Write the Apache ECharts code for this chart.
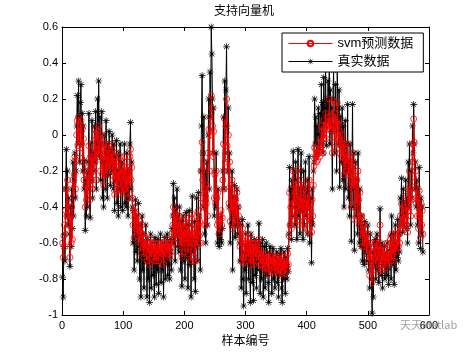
<!DOCTYPE html>
<html>
<head>
<meta charset="utf-8">
<script src="https://cdn.jsdelivr.net/npm/echarts@6/dist/echarts.min.js"></script>
<style>
  html, body { margin: 0; padding: 0; background: #fff; }
  #main { width: 474px; height: 354px; }
</style>
</head>
<body>
<div id="main"></div>
<script>
// 真实数据 (black *)
var realData = [
  -0.79, -0.9, -0.62, -0.55, -0.7, -0.3, -0.08, -0.45, -0.2, -0.5,
  -0.35, -0.55, -0.73, -0.4, -0.62, -0.3, -0.52, -0.15, -0.45, -0.25,
  -0.1, -0.35, -0.2, 0.05, 0.22, -0.05, 0.3, 0.1, -0.15, 0.18,
  0.28, -0.05, 0.12, -0.2, 0.05, -0.3, -0.14, -0.53, -0.25, -0.45,
  -0.2, -0.4, -0.15, 0.12, -0.3, -0.46, -0.05, -0.25, 0.08, -0.35,
  -0.1, -0.2, 0.05, -0.15, 0.13, -0.3, -0.05, 0.2, -0.1, 0.3,
  -0.12, 0.1, -0.25, -0.05, 0.13, -0.35, -0.15, -0.4, 0.0, -0.2,
  -0.3, 0.08, -0.1, -0.35, -0.05, -0.22, 0.02, -0.15, -0.28, -0.08,
  -0.2, 0.0, -0.15, -0.3, -0.05, -0.42, -0.12, -0.25, -0.03, -0.38,
  -0.2, -0.45, -0.1, -0.3, -0.05, -0.4, -0.25, -0.15, -0.42, -0.2,
  -0.3, -0.05, -0.38, -0.22, -0.4, -0.1, -0.3, -0.45, -0.2, -0.35,
  -0.05, 0.07, -0.3, -0.15, -0.4, -0.6, -0.42, -0.75, -0.5, -0.36,
  -0.65, -0.45, -0.7, -0.55, -0.38, -0.62, -0.8, -0.5, -0.9, -0.6,
  -0.45, -0.75, -0.55, -0.85, -0.6, -0.7, -0.5, -0.65, -0.9, -0.58,
  -0.8, -0.62, -0.93, -0.7, -0.55, -0.85, -0.68, -0.6, -0.78, -0.65,
  -0.9, -0.57, -0.72, -0.83, -0.6, -0.75, -0.58, -0.88, -0.66, -0.7,
  -0.55, -0.82, -0.64, -0.75, -0.6, -0.9, -0.68, -0.57, -0.8, -0.62,
  -0.7, -0.55, -0.78, -0.6, -0.72, -0.8, -0.58, -0.65, -0.75, -0.52,
  -0.45, -0.27, -0.6, -0.35, -0.7, -0.4, -0.55, -0.3, -0.62, -0.45,
  -0.65, -0.4, -0.55, -0.75, -0.48, -0.84, -0.6, -0.45, -0.7, -0.52,
  -0.8, -0.58, -0.43, -0.68, -0.5, -0.85, -0.6, -0.42, -0.72, -0.55,
  -0.9, -0.5, -0.34, -0.65, -0.58, -0.8, -0.48, -0.87, -0.62, -0.35,
  -0.55, -0.7, -0.32, -0.6, -0.45, -0.75, -0.2, 0.05, 0.33, -0.1,
  -0.4, 0.1, -0.55, -0.2, -0.6, -0.35, -0.15, -0.5, 0.0, 0.2,
  -0.3, 0.35, 0.1, 0.6, 0.45, 0.2, -0.1, 0.15, -0.45, -0.2,
  -0.4, -0.1, -0.35, -0.6, -0.3, -0.55, -0.62, -0.5, -0.58, -0.45,
  -0.6, -0.52, -0.2, 0.1, -0.3, 0.3, -0.1, 0.25, 0.49, 0.05,
  -0.2, 0.15, -0.4, -0.1, -0.6, -0.3, -0.5, -0.2, -0.75, -0.35,
  -0.45, -0.28, -0.57, -0.35, -0.5, -0.3, -0.55, -0.4, -0.48, -0.6,
  -0.7, -0.5, -0.85, -0.6, -0.47, -0.8, -0.95, -0.65, -0.75, -0.55,
  -0.88, -0.62, -0.7, -0.5, -0.8, -0.6, -0.72, -0.93, -0.55, -0.68,
  -0.82, -0.6, -0.92, -0.7, -0.58, -0.78, -0.65, -0.85, -0.6, -0.75,
  -0.62, -0.49, -0.7, -0.88, -0.6, -0.8, -0.68, -0.58, -0.9, -0.72,
  -0.62, -0.85, -0.7, -0.6, -0.78, -0.65, -0.82, -0.93, -0.7, -0.62,
  -0.75, -0.66, -0.88, -0.7, -0.63, -0.8, -0.72, -0.85, -0.68, -0.76,
  -0.65, -0.82, -0.7, -0.9, -0.66, -0.78, -0.72, -0.63, -0.85, -0.93,
  -0.7, -0.8, -0.65, -0.75, -0.88, -0.68, -0.72, -0.8, -0.63, -0.76,
  -0.55, -0.18, -0.5, -0.3, -0.58, -0.25, -0.45, -0.09, -0.35, -0.2,
  -0.5, -0.15, -0.4, -0.58, -0.25, -0.08, -0.45, -0.3, -0.55, -0.2,
  -0.1, -0.42, -0.3, -0.58, -0.2, -0.5, -0.35, -0.15, -0.45, -0.3,
  -0.55, -0.25, -0.4, -0.12, -0.6, -0.35, -0.48, -0.71, -0.3, -0.5,
  -0.2, -0.15, 0.2, -0.05, 0.1, -0.12, 0.05, -0.1, 0.15, 0.0,
  -0.08, 0.12, -0.05, 0.28, 0.0, 0.18, -0.1, 0.32, 0.05, 0.15,
  0.37, -0.06, 0.2, 0.08, 0.3, 0.1, 0.4, -0.05, 0.25, 0.15,
  0.02, -0.3, 0.2, 0.36, 0.05, -0.1, 0.28, 0.12, -0.2, 0.37,
  0.15, -0.05, 0.25, -0.29, 0.1, 0.0, -0.15, 0.15, -0.25, 0.05,
  -0.4, -0.1, 0.08, -0.3, -0.05, -0.2, 0.17, -0.35, -0.15, -0.45,
  -0.05, -0.3, -0.59, -0.2, 0.17, -0.4, -0.1, -0.64, -0.3, -0.15,
  -0.45, -0.25, -0.55, -0.1, -0.4, -0.6, -0.3, -0.5, -0.62, -0.45,
  -0.7, -0.5, -0.58, -0.72, -0.48, -0.65, -0.55, -0.7, -0.6, -0.5,
  -0.75, -0.62, -0.85, -0.55, -0.7, -0.8, -0.99, -0.65, -0.9, -0.6,
  -0.72, -0.58, -0.8, -0.65, -0.55, -0.75, -0.6, -0.82, -0.7, -0.41,
  -0.65, -0.78, -0.6, -0.85, -0.68, -0.72, -0.62, -0.8, -0.7, -0.66,
  -0.78, -0.6, -0.74, -0.83, -0.64, -0.7, -0.56, -0.8, -0.45, -0.65,
  -0.72, -0.55, -0.83, -0.6, -0.5, -0.75, -0.62, -0.68, -0.47, -0.7,
  -0.55, -0.65, -0.35, -0.5, -0.24, -0.45, -0.54, -0.3, -0.5, -0.38,
  -0.45, -0.25, -0.52, -0.35, -0.6, -0.15, -0.4, -0.05, -0.3, -0.5,
  -0.2, -0.35, 0.05, -0.1, 0.17, -0.05, -0.3, -0.15, -0.4, -0.25,
  -0.5, -0.3, -0.6, -0.18, -0.45, -0.63, -0.35, -0.55, -0.4, -0.65
];
// svm预测数据 (red o)
var predData = [
  -0.6, -0.68, -0.56, -0.5, -0.62, -0.42, -0.3, -0.45, -0.25, -0.47,
  -0.38, -0.5, -0.68, -0.45, -0.6, -0.4, -0.58, -0.25, -0.34, -0.22,
  -0.12, -0.3, -0.14, 0.0, 0.08, -0.06, 0.1, 0.02, -0.1, 0.05,
  0.08, -0.05, 0.03, -0.15, -0.02, -0.25, -0.2, -0.4, -0.28, -0.36,
  -0.22, -0.34, -0.18, -0.06, -0.28, -0.36, -0.12, -0.25, -0.05, -0.3,
  -0.12, -0.2, 0.0, -0.15, 0.03, -0.25, -0.08, 0.02, -0.12, 0.05,
  -0.1, -0.02, -0.2, -0.08, 0.0, -0.22, -0.12, -0.28, -0.05, -0.18,
  -0.22, -0.05, -0.12, -0.22, -0.08, -0.18, -0.05, -0.15, -0.2, -0.1,
  -0.16, -0.06, -0.15, -0.25, -0.12, -0.33, -0.15, -0.24, -0.1, -0.3,
  -0.2, -0.33, -0.15, -0.26, -0.12, -0.3, -0.22, -0.18, -0.32, -0.2,
  -0.26, -0.12, -0.3, -0.2, -0.32, -0.15, -0.25, -0.35, -0.2, -0.28,
  -0.12, -0.08, -0.25, -0.18, -0.35, -0.5, -0.42, -0.57, -0.46, -0.4,
  -0.52, -0.44, -0.56, -0.5, -0.45, -0.53, -0.6, -0.48, -0.65, -0.55,
  -0.5, -0.62, -0.55, -0.68, -0.58, -0.63, -0.57, -0.62, -0.7, -0.6,
  -0.66, -0.6, -0.72, -0.64, -0.58, -0.68, -0.63, -0.6, -0.66, -0.62,
  -0.7, -0.6, -0.65, -0.7, -0.62, -0.66, -0.6, -0.7, -0.63, -0.65,
  -0.6, -0.68, -0.62, -0.66, -0.6, -0.72, -0.64, -0.6, -0.68, -0.62,
  -0.64, -0.58, -0.66, -0.6, -0.64, -0.68, -0.6, -0.62, -0.65, -0.55,
  -0.5, -0.4, -0.55, -0.44, -0.6, -0.45, -0.52, -0.42, -0.56, -0.48,
  -0.58, -0.45, -0.52, -0.62, -0.5, -0.68, -0.56, -0.48, -0.6, -0.52,
  -0.65, -0.55, -0.46, -0.6, -0.5, -0.66, -0.56, -0.46, -0.62, -0.54,
  -0.7, -0.52, -0.44, -0.6, -0.55, -0.68, -0.5, -0.7, -0.58, -0.45,
  -0.55, -0.62, -0.42, -0.56, -0.48, -0.6, -0.35, -0.2, -0.04, -0.25,
  -0.4, -0.15, -0.5, -0.3, -0.5, -0.38, -0.28, -0.45, -0.1, 0.03,
  -0.2, 0.1, 0.0, 0.22, 0.15, 0.05, -0.12, 0.02, -0.35, -0.22,
  -0.38, -0.2, -0.35, -0.5, -0.32, -0.48, -0.55, -0.45, -0.52, -0.42,
  -0.5, -0.46, -0.25, -0.05, -0.3, 0.09, -0.15, 0.05, 0.2, -0.06,
  -0.2, 0.0, -0.38, -0.15, -0.48, -0.28, -0.42, -0.25, -0.52, -0.35,
  -0.42, -0.3, -0.5, -0.36, -0.46, -0.32, -0.5, -0.4, -0.45, -0.55,
  -0.62, -0.5, -0.7, -0.58, -0.52, -0.68, -0.71, -0.6, -0.66, -0.56,
  -0.7, -0.6, -0.65, -0.55, -0.68, -0.6, -0.66, -0.72, -0.58, -0.64,
  -0.7, -0.6, -0.72, -0.65, -0.6, -0.68, -0.62, -0.7, -0.6, -0.66,
  -0.64, -0.58, -0.66, -0.72, -0.64, -0.72, -0.68, -0.66, -0.74, -0.7,
  -0.68, -0.74, -0.7, -0.66, -0.73, -0.68, -0.74, -0.77, -0.7, -0.67,
  -0.72, -0.68, -0.76, -0.7, -0.67, -0.74, -0.7, -0.76, -0.69, -0.73,
  -0.68, -0.75, -0.7, -0.77, -0.68, -0.74, -0.71, -0.67, -0.76, -0.77,
  -0.71, -0.75, -0.68, -0.72, -0.77, -0.7, -0.72, -0.74, -0.66, -0.72,
  -0.56, -0.32, -0.5, -0.4, -0.52, -0.36, -0.45, -0.2, -0.38, -0.28,
  -0.47, -0.25, -0.4, -0.5, -0.32, -0.19, -0.42, -0.34, -0.48, -0.3,
  -0.25, -0.42, -0.35, -0.52, -0.3, -0.48, -0.38, -0.28, -0.45, -0.36,
  -0.52, -0.32, -0.42, -0.25, -0.55, -0.38, -0.48, -0.54, -0.36, -0.45,
  -0.28, -0.17, -0.07, -0.12, -0.08, -0.15, -0.1, -0.14, -0.05, -0.1,
  -0.12, -0.02, -0.08, 0.05, -0.04, 0.02, -0.1, 0.08, -0.02, 0.04,
  0.12, -0.02, 0.06, 0.03, 0.1, 0.05, 0.2, 0.03, 0.1, 0.06,
  0.03, -0.1, 0.08, 0.19, 0.05, -0.04, 0.12, 0.06, -0.08, 0.18,
  0.06, -0.02, 0.08, -0.1, 0.02, -0.04, -0.12, 0.0, -0.15, -0.05,
  -0.22, -0.1, -0.05, -0.2, -0.1, -0.16, -0.05, -0.22, -0.14, -0.28,
  -0.12, -0.22, -0.4, -0.18, -0.1, -0.3, -0.16, -0.47, -0.25, -0.2,
  -0.38, -0.25, -0.45, -0.2, -0.36, -0.5, -0.32, -0.45, -0.55, -0.45,
  -0.62, -0.5, -0.55, -0.62, -0.5, -0.6, -0.55, -0.66, -0.6, -0.55,
  -0.7, -0.64, -0.78, -0.6, -0.68, -0.74, -0.82, -0.66, -0.78, -0.62,
  -0.68, -0.6, -0.72, -0.64, -0.58, -0.7, -0.62, -0.76, -0.68, -0.5,
  -0.64, -0.72, -0.62, -0.75, -0.66, -0.7, -0.64, -0.74, -0.68, -0.66,
  -0.7, -0.6, -0.68, -0.72, -0.64, -0.66, -0.58, -0.7, -0.55, -0.62,
  -0.66, -0.58, -0.7, -0.6, -0.55, -0.65, -0.6, -0.63, -0.52, -0.62,
  -0.55, -0.6, -0.45, -0.52, -0.38, -0.48, -0.52, -0.4, -0.5, -0.44,
  -0.46, -0.34, -0.5, -0.4, -0.54, -0.3, -0.42, -0.2, -0.36, -0.45,
  -0.3, -0.36, -0.05, -0.15, 0.09, -0.04, -0.26, -0.2, -0.38, -0.3,
  -0.45, -0.34, -0.52, -0.31, -0.45, -0.57, -0.38, -0.5, -0.42, -0.55
];
var xTicks = [0, 100, 200, 300, 400, 500, 600];
var yTicks = [-1, -0.8, -0.6, -0.4, -0.2, 0, 0.2, 0.4, 0.6];

var starPath = 'path://M4.5,0h1v4.1l2.9,-2.9l0.7,0.7l-2.9,2.9h4.1v1h-4.1l2.9,2.9l-0.7,0.7l-2.9,-2.9v4.1h-1v-4.1l-2.9,2.9l-0.7,-0.7l2.9,-2.9h-4.1v-1h4.1l-2.9,-2.9l0.7,-0.7l2.9,2.9z';
var font = 'Liberation Sans, Arial, Noto Sans CJK SC, sans-serif';

function toPoints(arr) {
  return arr.map(function (v, i) { return [i + 1, v]; });
}

var myChart = echarts.init(document.getElementById('main'));
var xBase = {
  type: 'value', min: xTicks[0], max: xTicks[xTicks.length - 1], interval: 100,
  splitLine: { show: false },
  axisLine: { onZero: false, lineStyle: { color: '#000', width: 1 } },
  axisTick: { inside: true, length: 4, lineStyle: { color: '#000' } }
};
var yBase = {
  type: 'value', min: yTicks[0], max: yTicks[yTicks.length - 1], interval: 0.2,
  splitLine: { show: false },
  axisLine: { show: true, onZero: false, lineStyle: { color: '#000', width: 1 } },
  axisTick: { show: true, inside: true, length: 4, lineStyle: { color: '#000' } }
};
myChart.setOption({
  animation: false,
  backgroundColor: '#fff',
  grid: { left: 62, right: 45, top: 27, bottom: 39 },
  legend: {
    orient: 'vertical',
    left: 282, top: 33,
    padding: [4, 10, 4, 6],
    itemGap: 5,
    itemWidth: 44, itemHeight: 7,
    backgroundColor: '#fff',
    borderColor: '#000', borderWidth: 1, borderRadius: 0,
    lineStyle: { width: 1 },
    textStyle: { fontFamily: font, fontSize: 13, color: '#000' },
    data: ['svm预测数据', '真实数据']
  },
  xAxis: [
    Object.assign({}, xBase, {
      position: 'bottom',
      axisLabel: { color: '#000', fontFamily: font, fontSize: 11, margin: 5 },
      name: '样本编号', nameLocation: 'middle', nameGap: 17,
      nameTextStyle: { color: '#000', fontFamily: font, fontSize: 12 }
    }),
    Object.assign({}, xBase, { position: 'top', axisLabel: { show: false } })
  ],
  yAxis: [
    Object.assign({}, yBase, {
      position: 'left',
      axisLabel: {
        color: '#000', fontFamily: font, fontSize: 11, margin: 4,
        formatter: function (v) { return String(+v.toFixed(1)); }
      }
    }),
    Object.assign({}, yBase, { position: 'right', axisLabel: { show: false } })
  ],
  graphic: [
    { type: 'text', left: 214, top: 4,
      style: { text: '支持向量机', fill: '#000', font: '12px Noto Sans CJK SC, sans-serif' } },
    { type: 'text', left: 400, top: 319, z: 100,
      style: { text: '天天Matlab', fill: 'rgba(130,130,130,0.75)', font: '11px Noto Sans CJK SC, sans-serif' } }
  ],
  series: [
    {
      name: 'svm预测数据', type: 'line', data: toPoints(predData),
      symbol: 'circle', symbolSize: 6, showSymbol: true,
      lineStyle: { color: '#ff0000', width: 0.8 },
      itemStyle: { color: 'rgba(255,255,255,0)', borderColor: '#ff0000', borderWidth: 0.8 },
      z: 3
    },
    {
      name: '真实数据', type: 'line', data: toPoints(realData),
      symbol: starPath, symbolSize: 7, showSymbol: true,
      lineStyle: { color: '#000', width: 1 },
      itemStyle: { color: '#000' },
      z: 2
    }
  ]
});
</script>
</body>
</html>
